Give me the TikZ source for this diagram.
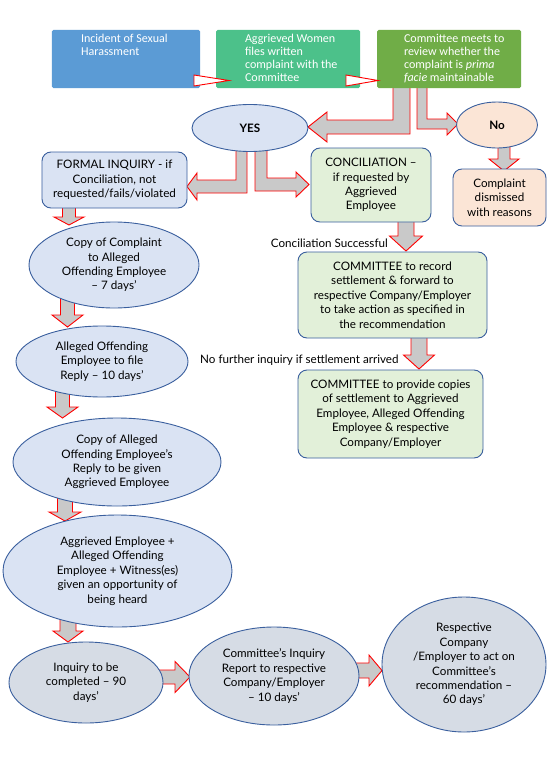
\documentclass[tikz,border=0pt]{standalone}
\usepackage{fontspec}
\setmainfont{Lato}
\newfontfamily\boxfont{Carlito}
\usetikzlibrary{shapes.geometric}
\definecolor{cA}{HTML}{5B9BD5}
\definecolor{cB}{HTML}{4CC18A}
\definecolor{cC}{HTML}{70AD47}
\definecolor{lblue}{HTML}{DAE3F3}
\definecolor{gblue}{HTML}{D6DCE5}
\definecolor{lgreen}{HTML}{E2F0D9}
\definecolor{peach}{HTML}{FBE5D6}
\definecolor{edgeblue}{HTML}{3A5F9E}
\definecolor{arrgray}{HTML}{C9C9C9}
\newcommand\dnblk[6]{\draw[blk] ({#1-#5},#2) -- ({#1+#5},#2) -- ({#1+#5},#3) -- ({#1+#6},#3) -- (#1,#4) -- ({#1-#6},#3) -- ({#1-#5},#3) -- cycle;}
\newcommand\rtblk[6]{\draw[blk] (#2,{#1-#5}) -- (#3,{#1-#5}) -- (#3,{#1-#6}) -- (#4,#1) -- (#3,{#1+#6}) -- (#3,{#1+#5}) -- (#2,{#1+#5}) -- cycle;}
\tikzset{
  topbox/.style={rectangle, rounded corners=1.5bp, inner sep=4bp, text=white,
    font=\boxfont\fontsize{12.1}{13.2}\selectfont},
  bodyfont/.style={font=\fontsize{11.7}{14.5}\selectfont},
  ell/.style={ellipse, draw=edgeblue, line width=0.9bp, inner sep=0pt, align=center, bodyfont},
  rbox/.style={rectangle, rounded corners=9bp, draw=edgeblue, line width=0.9bp, inner sep=0pt, align=center, bodyfont},
  blk/.style={fill=arrgray, draw=red, line width=0.9bp, line join=miter},
  wtri/.style={fill=white, draw=red, line width=0.9bp},
  lbl/.style={inner sep=0pt, bodyfont},
}
\begin{document}
\begin{tikzpicture}[x=1bp,y=-1bp]
\useasboundingbox[fill=white] (0,0) rectangle (549,762);

% ---- block arrows (drawn first, nodes cover their ends)
% committee -> YES
\draw[blk] (393,86) -- (410,86) -- (410,134) -- (327,134) -- (327,142) -- (308,127) -- (327,112) -- (327,120) -- (393,120) -- cycle;
% committee -> No
\draw[blk] (417,86) -- (427,86) -- (427,119) -- (447,119) -- (447,113) -- (458,124) -- (447,135) -- (447,129) -- (417,129) -- cycle;
% YES -> formal inquiry
\draw[blk] (236,146) -- (247,146) -- (247,193) -- (197,193) -- (197,200) -- (187,186.5) -- (197,173) -- (197,180) -- (236,180) -- cycle;
% YES -> conciliation
\draw[blk] (255,146) -- (267,146) -- (267,178) -- (296,178) -- (296,172) -- (309,184.5) -- (296,197) -- (296,191) -- (255,191) -- cycle;
% straight arrows
\dnblk{504}{144}{159}{171}{6}{15}
\dnblk{69}{205}{217}{225}{6.5}{15}
\dnblk{406}{219}{236}{251}{8}{16.5}
\dnblk{419}{335}{355}{369}{8}{15.5}
\dnblk{67.5}{298}{315}{327}{7}{15.5}
\dnblk{62.5}{390}{407}{418}{7}{15.5}
\dnblk{65}{496}{512}{521}{7.5}{16}
\dnblk{68}{618}{631}{642}{8}{15}
\rtblk{677}{155}{175}{190}{7}{15.5}
\rtblk{670.5}{352}{369}{382}{7.5}{15.5}

% ---- top boxes
\node[topbox, fill=cA] (inc) at (126,59)
  {\parbox[c][50bp][t]{140bp}{\raggedright\leftskip=25bp Incident of Sexual\\Harassment}};
\node[topbox, fill=cB] (files) at (288,59)
  {\parbox[c][50bp][t]{136bp}{\raggedright\leftskip=25bp Aggrieved Women\\files written\\complaint with the\\Committee}};
\node[topbox, fill=cC] (meets) at (449,59)
  {\parbox[c][50bp][t]{136bp}{\raggedright\leftskip=23bp Committee meets to\\review whether the\\complaint is \textit{prima}\\\textit{facie} maintainable}};

% ---- decision ellipses
\node[ell, fill=lblue, minimum width=116bp, minimum height=47bp] (yes) at (250,128) {\textbf{YES}};
\node[ell, fill=peach, minimum width=81bp, minimum height=46bp] (no) at (497,125) {\textbf{No}};

% ---- boxes
\node[rbox, fill=lblue, minimum width=145bp, minimum height=56bp] (formal) at (114.5,180)
  {FORMAL INQUIRY - if\\Conciliation, not\\requested/fails/violated};
\node[rbox, fill=lgreen, minimum width=120bp, minimum height=74bp] (concil) at (371,185)
  {CONCILIATION –\\if requested by\\Aggrieved\\Employee};
\node[rbox, fill=peach, minimum width=93bp, minimum height=57bp] (dismiss) at (499.5,197.5)
  {Complaint\\dismissed\\with reasons};
\node[rbox, fill=lgreen, minimum width=189bp, minimum height=86bp] (record) at (392.5,295)
  {COMMITTEE to record\\settlement \& forward to\\respective Company/Employer\\to take action as specified in\\the recommendation};
\node[rbox, fill=lgreen, minimum width=185bp, minimum height=88bp] (provide) at (390.5,414)
  {COMMITTEE to provide copies\\of settlement to Aggrieved\\Employee, Alleged Offending\\Employee \& respective\\Company/Employer};

% ---- inquiry chain
\node[ell, fill=lblue, minimum width=170bp, minimum height=86bp] (copyc) at (114,265)
  {Copy of Complaint\\to Alleged\\Offending Employee\\– 7 days’};
\node[ell, fill=lblue, minimum width=172bp, minimum height=71bp] (alleged) at (102,361.5)
  {Alleged Offending\\Employee to file\\Reply – 10 days’};
\node[ell, fill=lblue, minimum width=208bp, minimum height=88bp] (copya) at (117,462)
  {Copy of Alleged\\Offending Employee’s\\Reply to be given\\Aggrieved Employee};
\node[ell, fill=lblue, minimum width=229bp, minimum height=112bp] (heard) at (117.5,571)
  {Aggrieved Employee +\\Alleged Offending\\Employee + Witness(es)\\given an opportunity of\\being heard};
\node[ell, fill=gblue, minimum width=154bp, minimum height=81bp] (inq) at (86,682.5)
  {Inquiry to be\\completed – 90\\days’};
\node[ell, fill=gblue, minimum width=170bp, minimum height=98bp] (report) at (274,676)
  {Committee’s Inquiry\\Report to respective\\Company/Employer\\– 10 days’};
\node[ell, fill=gblue, minimum width=164bp, minimum height=135bp] (act) at (464,664.5)
  {Respective\\Company\\/Employer to act on\\Committee’s\\recommendation –\\60 days’};

% ---- labels
\node[lbl, anchor=east] (succ) at (388,243) {Conciliation Successful};
\node[lbl, anchor=west] (nofur) at (200,360) {No further inquiry if settlement arrived};

% ---- white wedge arrows between top boxes
\draw[wtri] (194,75) -- (229,80.5) -- (194,86) -- cycle;
\draw[wtri] (346,75) -- (378,80.5) -- (346,86) -- cycle;
\end{tikzpicture}
\end{document}
